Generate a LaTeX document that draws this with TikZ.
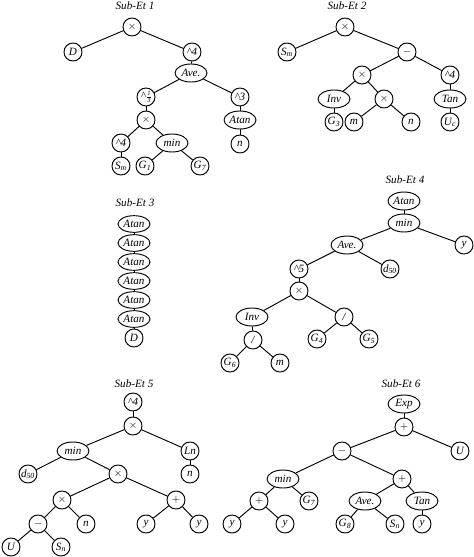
\documentclass[tikz,border=0pt]{standalone}
\usepackage{amsmath}
\usepackage{fontspec}
\setmainfont{Liberation Serif}
\usetikzlibrary{shapes.geometric}
\newcommand{\pw}[1]{\textasciicircum#1}
\newcommand{\sbs}[1]{\textsubscript{#1}}
\newcommand{\third}{$\vcenter{\hbox to 3.6pt{\hss\fontsize{5.5}{6}\selectfont 1\hss}\kern0.9pt
  \hrule height 0.3pt\kern0.9pt\hbox to 3.6pt{\hss\fontsize{5.5}{6}\selectfont 3\hss}}$}
\tikzset{
  opn/.style={circle,draw,line width=0.8pt,minimum size=0.54cm,inner sep=0pt,
    font=\itshape\fontsize{9.5}{10}\selectfont},
  fnn/.style={ellipse,draw,line width=0.8pt,minimum width=0.96cm,minimum height=0.54cm,
    inner sep=0pt,font=\itshape\fontsize{9.5}{10}\selectfont},
  ttl/.style={font=\itshape\fontsize{9.5}{10}\selectfont},
  edge/.style={line width=0.8pt}
}
\begin{document}
\begin{tikzpicture}[x=0.03cm,y=-0.03cm]
\useasboundingbox (0,0) rectangle (474,557);
% Sub-Et 1
\node[ttl] at (135,6) {Sub-Et 1};
\node[opn] (a0) at (132,27) {$\times$};
\node[opn] (a1) at (73,52) {D};
\node[opn] (a2) at (192,52) {\pw{4}};
\node[fnn] (a3) at (191,73) {Ave.};
\node[opn] (a4) at (146,97) {\pw{\kern1pt\third}};
\node[opn] (a5) at (240,97) {\pw{3}};
\node[opn] (a6) at (146,120) {$\times$};
\node[fnn] (a7) at (240,120) {Atan};
\node[opn] (a8) at (240,144) {n};
\node[opn] (a9) at (121,143) {\pw{4}};
\node[fnn] (a10) at (172,143) {min};
\node[opn] (a11) at (121,166) {S\sbs{m}};
\node[opn] (a12) at (145,166) {G\sbs{1}};
\node[opn] (a13) at (200,166) {G\sbs{7}};
\foreach \p/\c in {a0/a1,a0/a2,a2/a3,a3/a4,a3/a5,a4/a6,a5/a7,a7/a8,a6/a9,a6/a10,a9/a11,a10/a12,a10/a13}
  \draw[edge] (\p) -- (\c);
% Sub-Et 2
\node[ttl] at (347,6) {Sub-Et 2};
\node[opn] (b0) at (345,27) {$\times$};
\node[opn] (b1) at (287,52) {S\sbs{m}};
\node[opn] (b2) at (407,52) {$-$};
\node[opn] (b3) at (362,75) {$\times$};
\node[opn] (b4) at (450,75) {\pw{4}};
\node[fnn] (b5) at (334,99) {Inv};
\node[opn] (b6) at (384,99) {$\times$};
\node[fnn] (b7) at (450,99) {Tan};
\node[opn] (b8) at (334,122) {G\sbs{3}};
\node[opn] (b9) at (354,122) {m};
\node[opn] (b10) at (411,122) {n};
\node[opn] (b11) at (450,122) {U\sbs{c}};
\foreach \p/\c in {b0/b1,b0/b2,b2/b3,b2/b4,b3/b5,b3/b6,b4/b7,b5/b8,b6/b9,b6/b10,b7/b11}
  \draw[edge] (\p) -- (\c);
% Sub-Et 3
\node[ttl] at (135,203) {Sub-Et 3};
\foreach \i/\yy in {1/224,2/243,3/262,4/281,5/300,6/319}
  \node[fnn,minimum height=0.5cm] (c\i) at (134,\yy) {Atan};
\node[opn] (c7) at (134,338) {D};
\foreach \p/\c in {c1/c2,c2/c3,c3/c4,c4/c5,c5/c6,c6/c7}
  \draw[edge] (\p) -- (\c);
% Sub-Et 4
\node[ttl] at (405,180) {Sub-Et 4};
\node[fnn] (d0) at (404,201) {Atan};
\node[fnn] (d1) at (404,223) {min};
\node[fnn] (d2) at (347,245) {Ave.};
\node[opn] (d3) at (464,245) {y};
\node[opn] (d4) at (299,269) {\pw{5}};
\node[opn] (d5) at (390,269) {d\sbs{50}};
\node[opn] (d6) at (299,291) {$\times$};
\node[fnn] (d7) at (252,317) {Inv};
\node[opn] (d8) at (344,317) {/};
\node[opn] (d9) at (253,340) {/};
\node[opn] (d10) at (317,339) {G\sbs{4}};
\node[opn] (d11) at (369,339) {G\sbs{5}};
\node[opn] (d12) at (230,363) {G\sbs{6}};
\node[opn] (d13) at (280,363) {m};
\foreach \p/\c in {d0/d1,d1/d2,d1/d3,d2/d4,d2/d5,d4/d6,d6/d7,d6/d8,d7/d9,d8/d10,d8/d11,d9/d12,d9/d13}
  \draw[edge] (\p) -- (\c);
% Sub-Et 5
\node[ttl] at (134,384) {Sub-Et 5};
\node[opn] (e0) at (133,402) {\pw{4}};
\node[opn] (e1) at (133,426) {$\times$};
\node[fnn] (e2) at (73,451) {min};
\node[opn] (e3) at (190,451) {Ln};
\node[opn] (e4) at (28,474) {d\sbs{50}};
\node[opn] (e5) at (118,474) {$\times$};
\node[opn] (e6) at (190,474) {n};
\node[opn] (e7) at (62,500) {$\times$};
\node[opn] (e8) at (176,500) {$+$};
\node[opn] (e9) at (38,524) {$-$};
\node[opn] (e10) at (86,524) {n};
\node[opn] (e11) at (146,524) {y};
\node[opn] (e12) at (199,524) {y};
\node[opn] (e13) at (11,547) {U};
\node[opn] (e14) at (61,547) {S\sbs{n}};
\foreach \p/\c in {e0/e1,e1/e2,e1/e3,e2/e4,e2/e5,e3/e6,e5/e7,e5/e8,e7/e9,e7/e10,e8/e11,e8/e12,e9/e13,e9/e14}
  \draw[edge] (\p) -- (\c);
% Sub-Et 6
\node[ttl] at (401,384) {Sub-Et 6};
\node[fnn] (f0) at (404,404) {Exp};
\node[opn] (f1) at (404,427) {$+$};
\node[opn] (f2) at (342,451) {$-$};
\node[opn] (f3) at (460,451) {U};
\node[fnn] (f4) at (283,479) {min};
\node[opn] (f5) at (402,479) {$+$};
\node[opn] (f6) at (259,501) {$+$};
\node[opn] (f7) at (309,501) {G\sbs{7}};
\node[fnn] (f8) at (365,501) {Ave.};
\node[fnn] (f9) at (422,501) {Tan};
\node[opn] (f10) at (232,524) {y};
\node[opn] (f11) at (285,524) {y};
\node[opn] (f12) at (345,524) {G\sbs{8}};
\node[opn] (f13) at (395,524) {S\sbs{n}};
\node[opn] (f14) at (422,524) {y};
\foreach \p/\c in {f0/f1,f1/f2,f1/f3,f2/f4,f2/f5,f4/f6,f4/f7,f5/f8,f5/f9,f6/f10,f6/f11,f8/f12,f8/f13,f9/f14}
  \draw[edge] (\p) -- (\c);
\end{tikzpicture}
\end{document}
